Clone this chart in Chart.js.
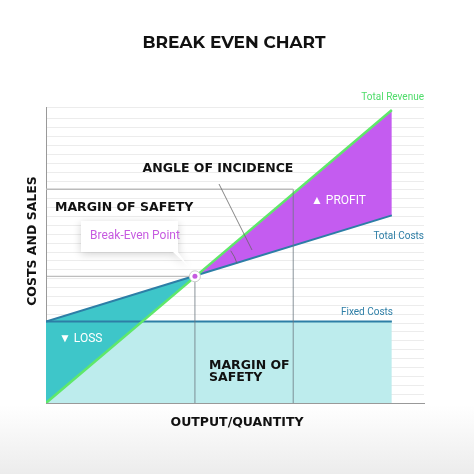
<!DOCTYPE html>
<html><head><meta charset="utf-8">
<script src="https://cdn.jsdelivr.net/npm/chart.js@4/dist/chart.umd.min.js"></script>
<style>html,body{margin:0;padding:0;background:#fff}#w{width:474px;height:474px;position:relative;background:linear-gradient(#fff 0,#fff 405px,#ececec 474px)}</style>
</head><body><div id="w"><canvas id="c" width="474" height="474"></canvas></div>
<script>
const outputX = [0, 39.4, 91.5];
const revenue = [0, 42.6, 99];
const totalCosts = [27.5, 43, 63.4];
const fixedCosts = [27.5, 27.5, 27.5];
const breakEven = {x: 39.4, y: 42.8};
const marginX = 65.4, marginY = 72.2;
const pts = a => a.map((v, i) => ({x: outputX[i], y: v}));

const deco = {
  id: 'deco',
  afterDatasetsDraw(ch) {
    const c = ch.ctx, X = ch.scales.x, Y = ch.scales.y;
    const px = v => X.getPixelForValue(v), py = v => Y.getPixelForValue(v);
    c.save();
    c.strokeStyle = '#6b7780'; c.lineWidth = 0.8;
    c.beginPath(); c.moveTo(px(breakEven.x), py(breakEven.y)); c.lineTo(px(breakEven.x), py(0)); c.stroke();
    c.beginPath(); c.moveTo(px(marginX), py(marginY)); c.lineTo(px(marginX), py(0)); c.stroke();
    c.strokeStyle = '#999';
    c.beginPath(); c.moveTo(px(0), py(breakEven.y)); c.lineTo(px(breakEven.x), py(breakEven.y)); c.stroke();
    c.strokeStyle = '#bbb'; c.lineWidth = 1.5;
    c.beginPath(); c.moveTo(px(0), py(marginY)); c.lineTo(px(marginX), py(marginY)); c.stroke();
    c.strokeStyle = '#666'; c.lineWidth = 0.8;
    c.beginPath(); c.moveTo(219, 184); c.lineTo(252, 250); c.stroke();
    c.beginPath(); c.arc(px(breakEven.x), py(breakEven.y), 44, -0.62, -0.3); c.stroke();
    c.shadowColor = 'rgba(0,0,0,0.18)'; c.shadowBlur = 8; c.shadowOffsetY = 2;
    c.fillStyle = '#fff';
    c.beginPath(); c.moveTo(81, 221); c.lineTo(178, 221); c.lineTo(178, 252); c.lineTo(188, 266); c.lineTo(173, 252); c.lineTo(81, 252); c.closePath(); c.fill();
    c.shadowColor = 'transparent';
    c.font = '12px Roboto'; c.fillStyle = '#c65be0'; c.textAlign = 'left'; c.textBaseline = 'middle';
    c.fillText('Break-Even Point', 90, 236);
    c.fillStyle = '#fff'; c.beginPath(); c.arc(px(breakEven.x), py(breakEven.y), 5.5, 0, 7); c.fill();
    c.strokeStyle = '#ccc'; c.lineWidth = 1; c.stroke();
    c.fillStyle = '#c65be0'; c.beginPath(); c.arc(px(breakEven.x), py(breakEven.y), 2.5, 0, 7); c.fill();
    c.fillStyle = '#111'; c.font = 'bold 17px Montserrat, "DejaVu Sans", sans-serif'; c.textAlign = 'center';
    c.fillText('BREAK EVEN CHART', 234, 43);
    c.font = 'bold 12.5px "DejaVu Sans", sans-serif';
    c.fillText('ANGLE OF INCIDENCE', 218, 169);
    c.fillText('OUTPUT/QUANTITY', 237, 423);
    c.textAlign = 'left';
    c.fillText('MARGIN OF SAFETY', 55, 208);
    c.fillText('MARGIN OF', 209, 366);
    c.fillText('SAFETY', 209, 378);
    c.save(); c.translate(33, 241); c.rotate(-Math.PI / 2); c.textAlign = 'center';
    c.fillText('COSTS AND SALES', 0, 0); c.restore();
    c.font = '12px Roboto'; c.fillStyle = '#fff';
    c.fillText('\u25B2 PROFIT', 311, 201);
    c.fillText('\u25BC LOSS', 59, 339);
    c.font = '10px Roboto'; c.textAlign = 'right';
    c.fillStyle = '#4fdc6a'; c.fillText('Total Revenue', 424, 97);
    c.fillStyle = '#2d7ea6'; c.fillText('Total Costs', 424, 236);
    c.fillText('Fixed Costs', 393, 312);
    c.restore();
  }
};

new Chart(document.getElementById('c'), {
  type: 'line',
  data: {
    datasets: [
      {label: 'Total Revenue', data: pts(revenue), borderColor: '#5fe86a', borderWidth: 2.5, pointRadius: 0, fill: false, order: 0},
      {label: 'Total Costs', data: pts(totalCosts), borderColor: '#2d7ea6', borderWidth: 2, pointRadius: 0,
        fill: {target: 0, above: '#3ec6c9', below: '#c45cf0'}, order: 1},
      {label: 'Fixed Costs', data: pts(fixedCosts), borderColor: '#2d7ea6', borderWidth: 2, pointRadius: 0,
        fill: {target: 'origin', above: '#bdeced'}, order: 2}
    ]
  },
  options: {
    responsive: false, animation: false, events: [],
    layout: {padding: {left: 46, right: 50, top: 107, bottom: 63}},
    plugins: {legend: {display: false}, tooltip: {enabled: false}, filler: {drawTime: 'beforeDatasetsDraw'}},
    scales: {
      x: {type: 'linear', min: 0, max: 100, ticks: {display: false}, grid: {display: false}, border: {color: '#999', width: 1}},
      y: {min: 0, max: 100, ticks: {display: false, stepSize: 3}, grid: {color: '#ececec', drawTicks: false}, border: {color: '#999', width: 1}}
    }
  },
  plugins: [deco]
});
</script></body></html>
